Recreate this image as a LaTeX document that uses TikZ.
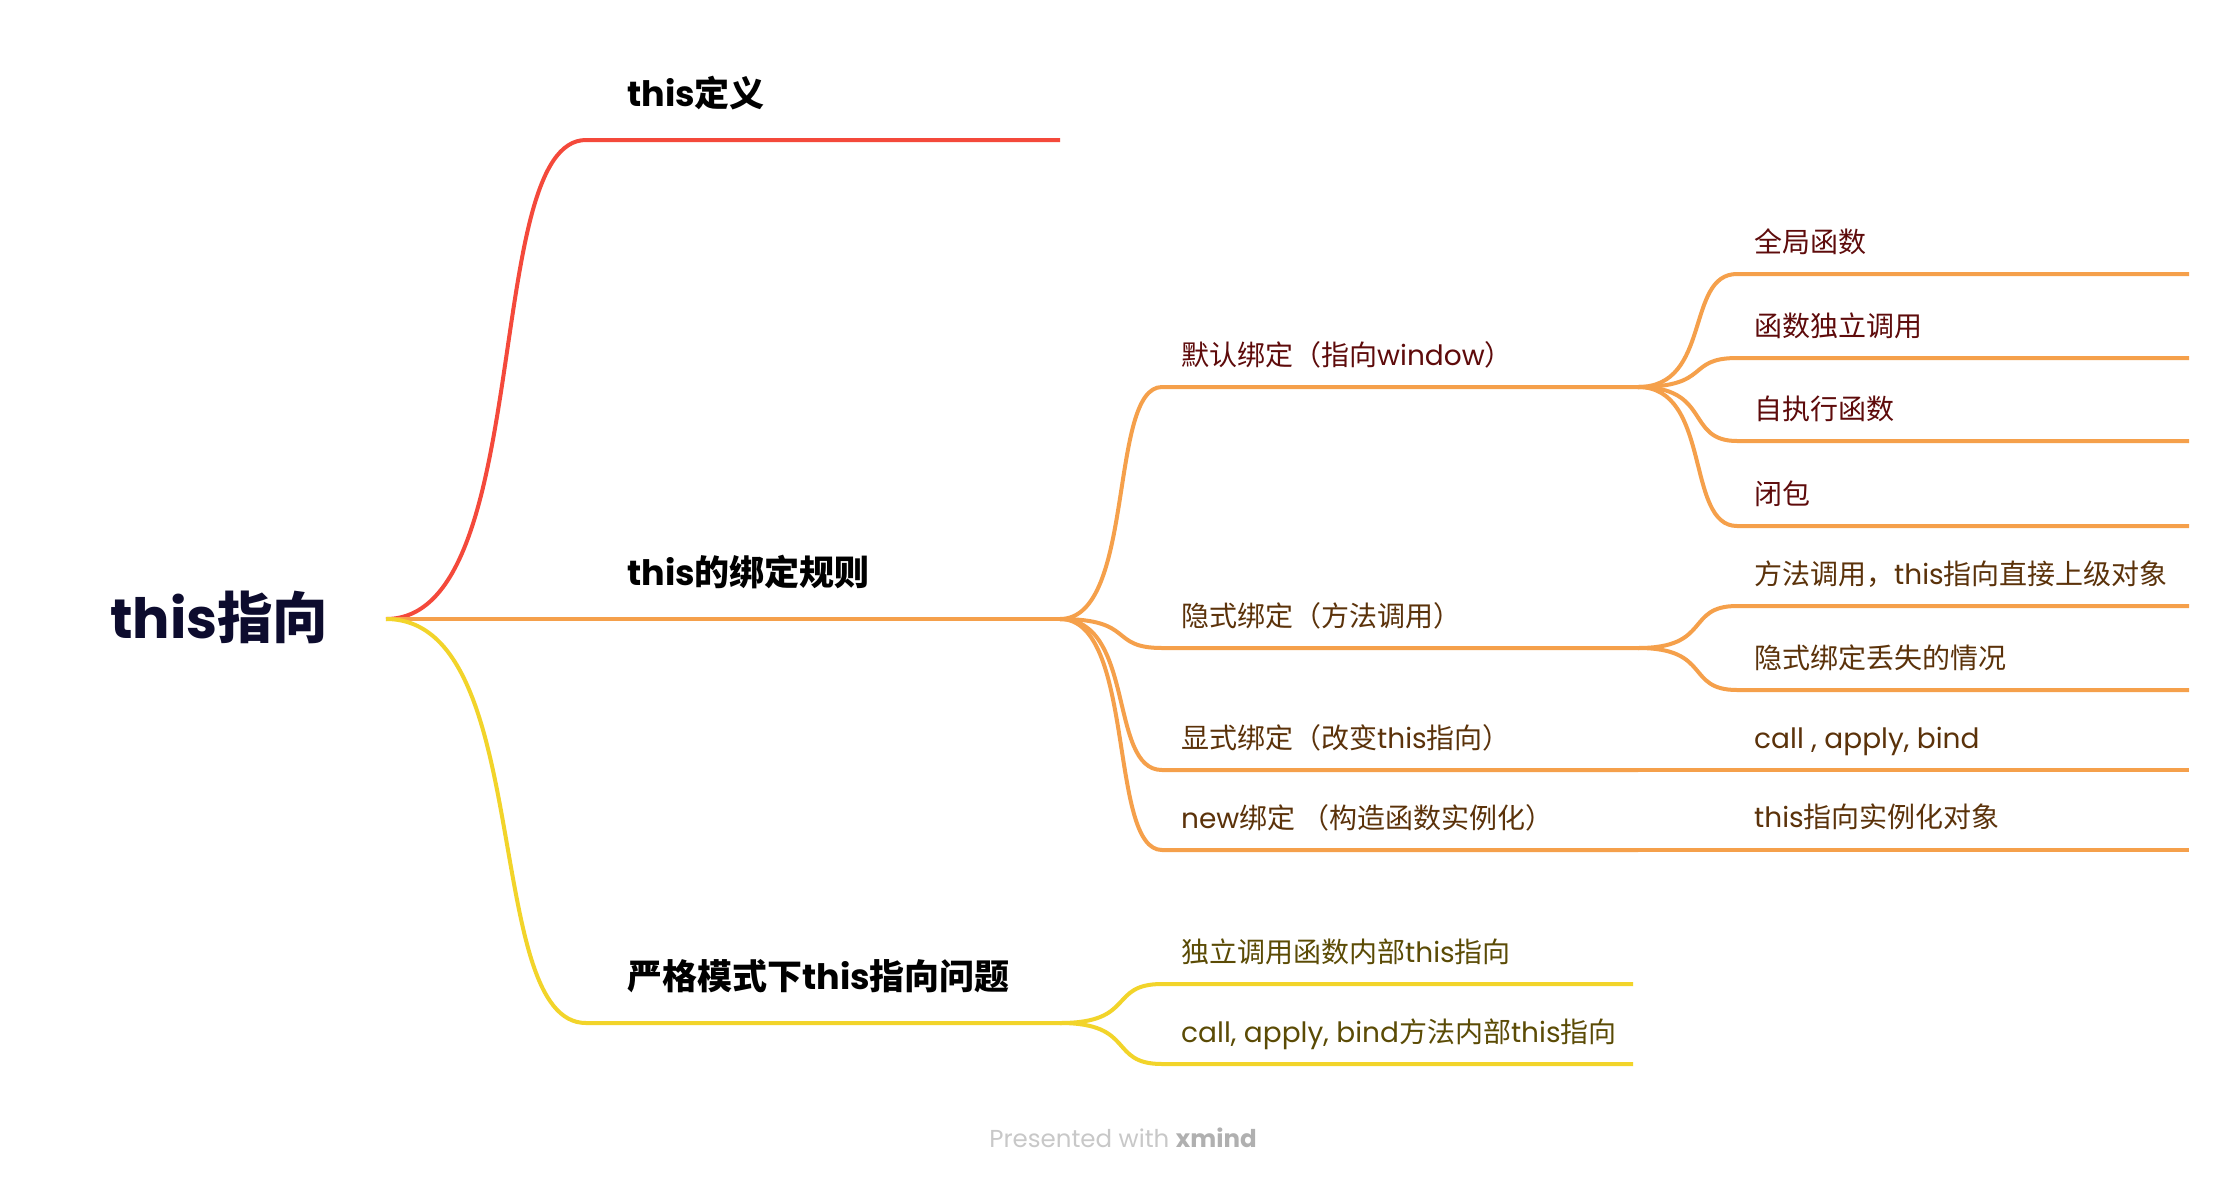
\documentclass[tikz,border=0pt]{standalone}
\usepackage{fontspec}
\setmainfont{Poppins}
\newfontfamily\cjk{Noto Sans CJK SC}
\newcommand\zh[1]{{\cjk #1}}
\definecolor{bred}{HTML}{F4493B}
\definecolor{borange}{HTML}{F5A04B}
\definecolor{byellow}{HTML}{F2D42A}
\definecolor{roottext}{HTML}{0D0C2E}
\definecolor{maroon}{HTML}{5E0B0B}
\definecolor{brown}{HTML}{5B320A}
\definecolor{olive}{HTML}{5B4B05}
\definecolor{wmgray}{HTML}{C8C8C8}
\definecolor{wmdark}{HTML}{B0B0B0}
\begin{document}
\begin{tikzpicture}[x=1pt,y=-1pt,
  br/.style={line width=4pt},
  l1/.style={anchor=base west,inner sep=0pt,font=\fontsize{35}{37}\selectfont\bfseries,text=black},
  l2/.style={anchor=base west,inner sep=0pt,font=\fontsize{28}{30}\selectfont},
  rootlbl/.style={anchor=base west,inner sep=0pt,font=\fontsize{55.5}{58}\selectfont\bfseries,text=roottext}]
\useasboundingbox[fill=white] (0,0) rectangle (2240,1186);

% junctions
\coordinate (J0) at (386,619);
\coordinate (J1) at (1060,619);
\coordinate (J2) at (1060,1023);
\coordinate (Jdef) at (1638,387);
\coordinate (Jimp) at (1638,648);
\coordinate (Jexp) at (1638,770);
\coordinate (Jnew) at (1638,850);

% level 1
\coordinate (defS) at (586,140); \coordinate (defE) at (1060,140);
\coordinate (strS) at (586,1023);
\draw[br,bred] (J0) .. controls +(150,0) and +(-105,0) .. (defS) -- (defE);
\draw[br,borange] (J0) -- (J1);
\draw[br,byellow] (J0) .. controls +(150,0) and +(-105,0) .. (strS) -- (J2);

% level 2 orange
\foreach \n/\y in {a/387,b/648,c/770,d/850}{
  \coordinate (L2\n) at (1162,\y);
}
\foreach \n/\e in {a/Jdef,b/Jimp,c/Jexp,d/Jnew}{
  \draw[br,borange] (J1) .. controls +(76,0) and +(-54,0) .. (L2\n) -- (\e);
}

% level 3
\foreach \n/\y in {a/274,b/358,c/441,d/526,e/606,f/690}{
  \coordinate (L3\n) at (1737,\y);
  \coordinate (E3\n) at (2189,\y);
}
\coordinate (E3g) at (2189,770);
\coordinate (E3h) at (2189,850);
\foreach \n in {a,b,c,d}{
  \draw[br,borange] (Jdef) .. controls +(74,0) and +(-52,0) .. (L3\n) -- (E3\n);
}
\foreach \n in {e,f}{
  \draw[br,borange] (Jimp) .. controls +(74,0) and +(-52,0) .. (L3\n) -- (E3\n);
}
\draw[br,borange] (Jexp) -- (E3g);
\draw[br,borange] (Jnew) -- (E3h);

% yellow level 2
\coordinate (Y1S) at (1162,984); \coordinate (Y1E) at (1633,984);
\coordinate (Y2S) at (1162,1064); \coordinate (Y2E) at (1633,1064);
\draw[br,byellow] (J2) .. controls +(76,0) and +(-54,0) .. (Y1S) -- (Y1E);
\draw[br,byellow] (J2) .. controls +(76,0) and +(-54,0) .. (Y2S) -- (Y2E);

% labels
\node[rootlbl] (root) at (110,638) {this\zh{指向}};
\node[l1] (def) at (627,106) {this\zh{定义}};
\node[l1] (rules) at (627,585) {this\zh{的绑定规则}};
\node[l1] (strict) at (627,989) {\zh{严格模式下}this\zh{指向问题}};

\node[l2,text=maroon] (dflt) at (1181,365) {\zh{默认绑定（指向}window\zh{）}};
\node[l2,text=brown] (impl) at (1181,626) {\zh{隐式绑定（方法调用）}};
\node[l2,text=brown] (expl) at (1181,748) {\zh{显式绑定（改变}this\zh{指向）}};
\node[l2,text=brown] (newb) at (1181,828) {new\zh{绑定 （构造函数实例化）}};

\node[l2,text=maroon] (c1) at (1754,252) {\zh{全局函数}};
\node[l2,text=maroon] (c2) at (1754,336) {\zh{函数独立调用}};
\node[l2,text=maroon] (c3) at (1754,419) {\zh{自执行函数}};
\node[l2,text=maroon] (c4) at (1754,504) {\zh{闭包}};
\node[l2,text=brown] (c5) at (1754,584) {\zh{方法调用，}this\zh{指向直接上级对象}};
\node[l2,text=brown] (c6) at (1754,668) {\zh{隐式绑定丢失的情况}};
\node[l2,text=brown] (c7) at (1754,748) {call , apply, bind};
\node[l2,text=brown] (c8) at (1754,827) {this\zh{指向实例化对象}};

\node[l2,text=olive] (s1) at (1181,962) {\zh{独立调用函数内部}this\zh{指向}};
\node[l2,text=olive] (s2) at (1181,1042) {call, apply, bind\zh{方法内部}this\zh{指向}};

\node[anchor=base,inner sep=0pt,font=\fontsize{24.5}{27}\selectfont] (wm) at (1123,1147)
  {\textcolor{wmgray}{Presented with} \textcolor{wmdark}{\bfseries xmind}};
\end{tikzpicture}
\end{document}
